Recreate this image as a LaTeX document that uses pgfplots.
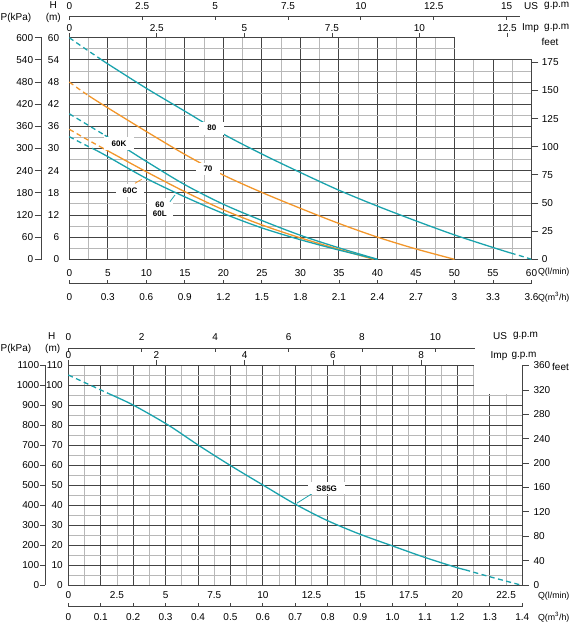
\documentclass[border=0pt]{standalone}
\usepackage{pgfplots}
\pgfplotsset{compat=1.18}
\usepackage{fontspec}
\setmainfont{Liberation Sans}
\definecolor{tealc}{HTML}{1AA3AD}
\definecolor{orng}{HTML}{F2962A}
\definecolor{gmaj}{HTML}{444444}
\definecolor{gmin}{HTML}{B8B8B8}
\pgfplotsset{
 base/.style={scale only axis, anchor=south west, clip=false,
   /pgf/number format/assume math mode=true,
   /pgf/number format/1000 sep={},
   font=\fontsize{10}{12}\selectfont,
   tick label style={font=\fontsize{10}{12}\selectfont, inner sep=0pt},
   axis line style={gmaj, line width=0.9pt},
   tick style={gmaj, line width=0.8pt},
 },
 grd/.style={grid=both, major grid style={gmaj, line width=0.9pt},
   minor grid style={gmin, line width=0.8pt}, major tick length=0pt, minor tick length=0pt},
}
\tikzset{
 crv/.style={line width=1.3pt, smooth},
 dsh/.style={line width=1.3pt, smooth, dash pattern=on 5pt off 3.5pt},
 lbl/.style={fill=white, font=\fontsize{8}{9.5}\selectfont\bfseries, inner xsep=8pt, inner ysep=3.5pt},
}
\begin{document}
\begin{tikzpicture}
\useasboundingbox (0,0) rectangle (570pt,623pt);
% ================= TOP CHART =================
\begin{axis}[base, grd, at={(69.3pt,363.7pt)}, width=462.2pt, height=221.6pt,
  xmin=0, xmax=60, ymin=0, ymax=60,
  xtick={0,5,...,60}, minor xtick={2.5,7.5,...,57.5},
  ytick={0,6,...,60}, minor ytick={3,9,...,57},
  xticklabel style={anchor=center, yshift=-13.4pt},
  yticklabel style={anchor=east, xshift=-10pt}]
 % 80
 \addplot[dsh, tealc] coordinates {(0,60)(2,57.1)(4,54.3)};
 \addplot[crv, tealc] coordinates {(4,54.3)(5,52.9)(10,46.3)(15,40.1)(20,33.9)(25,28.5)(30,23.5)(35,18.7)(40,14.4)(45,10.4)(50,6.6)(55,3.2)(57.3,1.7)};
 \addplot[dsh, tealc] coordinates {(57.3,1.7)(58.7,0.85)(60,0)};
 % 70
 \addplot[dsh, orng] coordinates {(0,48)(1.25,46.1)(2.5,44.3)};
 \addplot[crv, orng] coordinates {(2.5,44.3)(5,41)(10,34.6)(15,28.4)(20,22.8)(25,18.1)(30,13.8)(35,9.7)(40,6)(45,2.8)(50,0)};
 % 60K
 \addplot[dsh, tealc] coordinates {(0,39.4)(2.3,36.5)(4.6,33.6)};
 \addplot[crv, tealc] coordinates {(4.6,33.6)(7.2,30.2)(10,26.5)(15,20.2)(20,14.9)(25,10.5)(30,6.5)(35,3.1)(40,0)};
 % 60C
 \addplot[dsh, orng] coordinates {(0,35.2)(2,32.8)(4,30.5)};
 \addplot[crv, orng] coordinates {(4,30.5)(10,23.7)(15,18.3)(20,13.4)(25,9.3)(30,5.8)(35,2.7)(39.5,0)};
 % 60 / 60L
 \addplot[dsh, tealc] coordinates {(0,33.2)(1.75,31.3)(3.5,29.5)};
 \addplot[crv, tealc] coordinates {(3.5,29.5)(5,27.8)(10,21.9)(15,16.9)(20,12.4)(25,8.5)(30,5.3)(35,2.5)(40,0)};
 % labels
 \node[lbl] at (axis cs:18.5,35.5) {80};
 \node[lbl] at (axis cs:18.0,24.45) {70};
 \node[lbl] at (axis cs:6.45,31.4) {60K};
 \node[lbl, inner xsep=7pt] at (axis cs:7.88,18.57) {60C};
 \node[lbl, align=center, inner xsep=6pt, inner ysep=4pt] at (axis cs:11.75,13.6) {60\\[-1pt]60L};
 \draw[orng, line width=0.8pt] (axis cs:8.53,20.58) -- (axis cs:9.40,21.66);
 \draw[tealc, line width=0.8pt] (axis cs:13.07,15.6) -- (axis cs:13.72,17.41);
\end{axis}
\fill[white] (455.2pt,563.7pt) rectangle (534pt,586.2pt);
% P axis
\begin{axis}[base, at={(41.7pt,363.7pt)}, width=10pt, height=221.6pt,
  xmin=0, xmax=1, ymin=0, ymax=600, axis y line*=left, axis x line=none,
  ytick={0,60,...,600}, tick align=outside, major tick length=7pt,
  yticklabel style={anchor=east, xshift=-1.4pt}]
\end{axis}
% feet axis
\begin{axis}[base, at={(69.3pt,363.7pt)}, width=462.2pt, height=197.0pt,
  xmin=0, xmax=1, ymin=0, ymax=175, axis y line*=right, axis x line=none,
  ytick={0,25,...,175}, tick align=outside, major tick length=6.8pt,
  yticklabel style={anchor=west, xshift=3.4pt}]
\end{axis}
% m3/h axis
\begin{axis}[base, at={(69.3pt,339.7pt)}, width=462.2pt, height=5pt,
  xmin=0, xmax=60, ymin=0, ymax=1, axis x line*=bottom, axis y line=none,
  xtick={0,5,...,60}, xticklabels={0,0.3,0.6,0.9,1.2,1.5,1.8,2.1,2.4,2.7,3,3.3,3.6},
  tick align=inside, major tick length=3.5pt,
  xticklabel style={anchor=center, yshift=-13.7pt}]
\end{axis}
% US gpm
\begin{axis}[base, anchor=north west, at={(69.3pt,606.3pt)}, width=450.6pt, height=5pt,
  xmin=0, xmax=58.5, ymin=0, ymax=1, axis x line*=top, axis y line=none,
  xtick={0,9.4635,18.927,28.3905,37.854,47.3175,56.781}, xticklabels={0,2.5,5,7.5,10,12.5,15},
  tick align=inside, major tick length=3.5pt,
  xticklabel style={anchor=center, yshift=10.7pt}]
\end{axis}
% Imp gpm
\begin{axis}[base, anchor=north west, at={(69.3pt,590pt)}, width=462.2pt, height=5pt,
  xmin=0, xmax=60, ymin=0, ymax=1, axis x line*=top, axis y line=none,
  x axis line style={draw=none},
  xtick={0,11.365,22.73,34.095,45.46,56.825}, xticklabels={0,2.5,5,7.5,10,12.5},
  tick align=inside, major tick length=4.3pt,
  xticklabel style={anchor=center, yshift=5pt}]
\end{axis}
\begin{scope}[font=\fontsize{10}{12}\selectfont]
\node[anchor=west, inner sep=0pt] at (0.5pt,604.7pt) {P(kPa)};
\node[inner sep=0pt] at (53.3pt,618pt) {H};
\node[inner sep=0pt] at (53.3pt,604.7pt) {(m)};
\node[inner sep=0pt] at (550pt,581.3pt) {feet};
\node[inner sep=0pt] at (531pt,617pt) {US};
\node[inner sep=0pt] at (556.7pt,617pt) {g.p.m};
\node[inner sep=0pt] at (530.5pt,595pt) {Imp};
\node[inner sep=0pt] at (556.7pt,595pt) {g.p.m};
\node[anchor=east, inner sep=0pt, font=\fontsize{8.8}{10}\selectfont] at (569.6pt,350.3pt) {Q(l/min)};
\node[anchor=east, inner sep=0pt, font=\fontsize{8.8}{10}\selectfont] at (569.6pt,326pt) {Q(m\textsuperscript{3}/h)};
\end{scope}
% ================= BOTTOM CHART =================
\begin{axis}[base, grd, at={(68.3pt,38pt)}, width=454pt, height=220pt,
  xmin=0, xmax=23.33333, ymin=0, ymax=110,
  xtick={0,1.66667,3.33333,5,6.66667,8.33333,10,11.66667,13.33333,15,16.66667,18.33333,20,21.66667,23.33333},
  minor xtick={0.83333,2.5,4.16667,5.83333,7.5,9.16667,10.83333,12.5,14.16667,15.83333,17.5,19.16667,20.83333,22.5},
  xticklabel=\empty,
  ytick={0,10,...,110}, minor ytick={5,15,...,105},
  yticklabel style={anchor=east, xshift=-5.3pt}]
 \addplot[dsh, tealc] coordinates {(0,105)(1.07,100.2)(2.14,95.4)};
 \addplot[crv, tealc] coordinates {(2.14,95.4)(3.33,90)(5.13,80)(6.67,70)(8.29,60)(10,50)(11.63,40.6)(13.25,32.5)(14.96,25.5)(16.67,19.5)(18.29,13.9)(19.9,8.9)(20.4,7.6)};
 \addplot[dsh, tealc] coordinates {(20.4,7.6)(21.6,4.3)(23.25,0)};
 \draw[tealc, line width=0.8pt] (axis cs:12.58,46) -- (axis cs:11.74,40.85);
 \node[lbl, inner ysep=3pt] at (axis cs:13.28,48.35) {S85G};
\end{axis}
\fill[white] (474.2pt,228.6pt) rectangle (524pt,258.8pt);
% Q(l/min) labels
\begin{axis}[base, at={(68.3pt,38pt)}, width=454pt, height=5pt,
  xmin=0, xmax=23.33333, ymin=0, ymax=1, axis x line*=bottom, axis y line=none,
  x axis line style={draw=none}, major tick length=0pt,
  xtick={0,2.5,5,7.5,10,12.5,15,17.5,20,22.5}, xticklabels={0,2.5,5,7.5,10,12.5,15,17.5,20,22.5},
  xticklabel style={anchor=center, yshift=-10pt}]
\end{axis}
% P axis
\begin{axis}[base, at={(45pt,38pt)}, width=10pt, height=220pt,
  xmin=0, xmax=1, ymin=0, ymax=1100, axis y line*=left, axis x line=none,
  ytick={0,100,...,1100}, tick align=outside, major tick length=5pt,
  yticklabel style={anchor=east, xshift=-0.7pt}]
\end{axis}
% feet axis
\begin{axis}[base, at={(68.3pt,38pt)}, width=454pt, height=219.46pt,
  xmin=0, xmax=1, ymin=0, ymax=360, axis y line*=right, axis x line=none,
  ytick={0,40,...,360}, tick align=outside, major tick length=6.6pt,
  yticklabel style={anchor=west, xshift=4.4pt}]
\end{axis}
% m3/h axis
\begin{axis}[base, at={(68.3pt,16.3pt)}, width=454pt, height=5pt,
  xmin=0, xmax=1.4, ymin=0, ymax=1, axis x line*=bottom, axis y line=none,
  xtick={0,0.1,0.2,0.3,0.4,0.5,0.6,0.7,0.8,0.9,1.0,1.1,1.2,1.3,1.4},
  xticklabels={0,0.1,0.2,0.3,0.4,0.5,0.6,0.7,0.8,0.9,1.0,1.1,1.2,1.3,1.4},
  tick align=inside, major tick length=3.5pt,
  xticklabel style={anchor=center, yshift=-10.6pt}]
\end{axis}
% US
\begin{axis}[base, anchor=north west, at={(68.3pt,274.7pt)}, width=406.7pt, height=5pt,
  xmin=0, xmax=20.9, ymin=0, ymax=1, axis x line*=top, axis y line=none,
  xtick={0,3.773,7.546,11.319,15.092,18.865}, xticklabels={0,2,4,6,8,10},
  tick align=inside, major tick length=3.5pt,
  xticklabel style={anchor=center, yshift=11pt}]
\end{axis}
% Imp
\begin{axis}[base, anchor=north west, at={(68.3pt,263pt)}, width=454pt, height=5pt,
  xmin=0, xmax=23.33333, ymin=0, ymax=1, axis x line*=top, axis y line=none,
  x axis line style={draw=none},
  xtick={0,4.533,9.066,13.599,18.132}, xticklabels={0,2,4,6,8},
  tick align=inside, major tick length=5pt,
  xticklabel style={anchor=center, yshift=4.5pt}]
\end{axis}
\begin{scope}[font=\fontsize{10}{12}\selectfont]
\node[anchor=west, inner sep=0pt] at (0.5pt,273.7pt) {P(kPa)};
\node[inner sep=0pt] at (51.7pt,287pt) {H};
\node[inner sep=0pt] at (52.7pt,273.7pt) {(m)};
\node[inner sep=0pt] at (560.5pt,256.3pt) {feet};
\node[inner sep=0pt] at (500pt,287pt) {US};
\node[inner sep=0pt] at (525.5pt,287pt) {g.p.m};
\node[inner sep=0pt] at (499pt,267.3pt) {Imp};
\node[inner sep=0pt] at (524pt,267.3pt) {g.p.m};
\node[anchor=east, inner sep=0pt, font=\fontsize{8.8}{10}\selectfont] at (569.6pt,26.3pt) {Q(l/min)};
\node[anchor=east, inner sep=0pt, font=\fontsize{8.8}{10}\selectfont] at (569.6pt,6pt) {Q(m\textsuperscript{3}/h)};
\end{scope}
\end{tikzpicture}
\end{document}
